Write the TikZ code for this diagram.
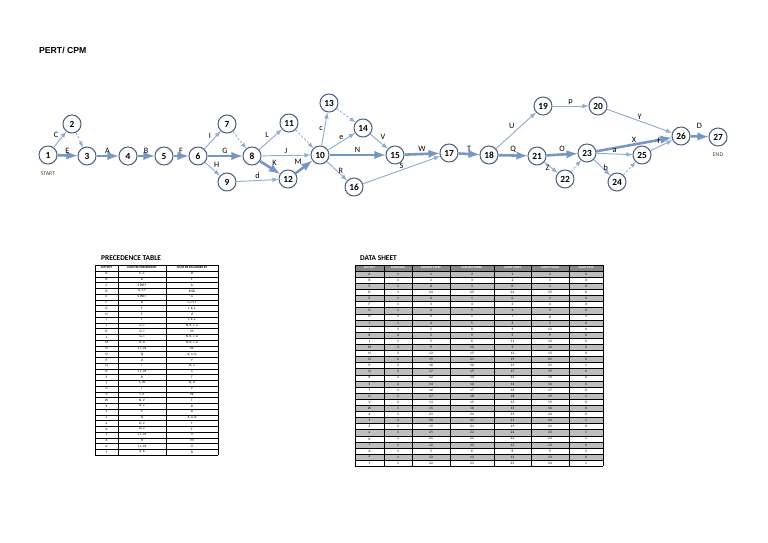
\documentclass[tikz,border=0pt]{standalone}
\usepackage{fontspec}
\setmainfont{Carlito}
\newfontfamily\titlefont{Liberation Sans}
\usetikzlibrary{arrows}
\usetikzlibrary{positioning}
\definecolor{RingBlue}{RGB}{80,100,130}
\definecolor{CritBlue}{RGB}{120,150,195}
\definecolor{LinkBlue}{RGB}{145,172,210}
\definecolor{ShadeGray}{RGB}{190,190,190}
\definecolor{HeadGray}{RGB}{135,135,135}

\tikzset{
  event/.style={circle,draw=RingBlue,line width=0.9pt,fill=white,minimum size=0.54cm,inner sep=0pt,font=\fontsize{8}{8}\selectfont\bfseries},
  crit/.style={->,>=latex,line width=2.2pt,CritBlue},
  link/.style={->,>=latex,line width=0.8pt,LinkBlue},
  dummy/.style={->,>=latex,line width=0.7pt,LinkBlue,dash pattern=on 2pt off 1.5pt},
  lbl/.style={font=\fontsize{7}{7}\selectfont,text=black,inner sep=1pt},
  tag/.style={font=\fontsize{5}{5}\selectfont,text=black!70,inner sep=1pt},
  tabtitle/.style={font=\fontsize{6.3}{7}\selectfont\bfseries,inner sep=0pt},
  cell/.style={font=\fontsize{3}{3}\selectfont,inner sep=0pt},
  headcell/.style={font=\fontsize{2.6}{3}\selectfont\bfseries,inner sep=0pt},
  tabline/.style={line width=0.3pt,black},
}

\begin{document}
\begin{tikzpicture}[x=0.03cm,y=-0.03cm]
  \useasboundingbox (0,0) rectangle (768,543);
  \fill[white] (0,0) rectangle (768,543);

  \node[anchor=west,font=\titlefont\bfseries\fontsize{7.4}{8}\selectfont] (title) at (35,50) {PERT/ CPM};

  % events of the network
  \node[event] (n1) at (48,155) {1};
  \node[event] (n2) at (72,124) {2};
  \node[event] (n3) at (87,156) {3};
  \node[event] (n4) at (128,156) {4};
  \node[event] (n5) at (164,156) {5};
  \node[event] (n6) at (198,156) {6};
  \node[event] (n7) at (227,124) {7};
  \node[event] (n8) at (252,156) {8};
  \node[event] (n9) at (227,182) {9};
  \node[event] (n10) at (320,155) {10};
  \node[event] (n11) at (289,123) {11};
  \node[event] (n12) at (288,179) {12};
  \node[event] (n13) at (329,103) {13};
  \node[event] (n14) at (363,128) {14};
  \node[event] (n15) at (395,155) {15};
  \node[event] (n16) at (354,187) {16};
  \node[event] (n17) at (449,153) {17};
  \node[event] (n18) at (489,155) {18};
  \node[event] (n19) at (543,106) {19};
  \node[event] (n20) at (598,106) {20};
  \node[event] (n21) at (537,156) {21};
  \node[event] (n22) at (565,179) {22};
  \node[event] (n23) at (587,153) {23};
  \node[event] (n24) at (617,182) {24};
  \node[event] (n25) at (642,155) {25};
  \node[event] (n26) at (681,136) {26};
  \node[event] (n27) at (718,137) {27};
  \node[tag,below=5pt of n1] (start) {START};
  \node[tag,below=4pt of n27] (end) {END};

  % activities
  \draw[link] (n1) -- node[lbl,above left] (lC) {C} (n2);
  \draw[dummy] (n2) -- (n3);
  \draw[crit] (n1) -- node[lbl,above] (lE) {E} (n3);
  \draw[crit] (n3) -- node[lbl,above] (lA) {A} (n4);
  \draw[crit] (n4) -- node[lbl,above] (lB) {B} (n5);
  \draw[crit] (n5) -- node[lbl,above] (lF) {F} (n6);
  \draw[link] (n6) -- node[lbl,above left] (lI) {I} (n7);
  \draw[dummy] (n7) -- (n8);
  \draw[crit] (n6) -- node[lbl,above] (lG) {G} (n8);
  \draw[link] (n6) -- node[lbl,above right] (lH) {H} (n9);
  \draw[link] (n9) -- node[lbl,above] (ld) {d} (n12);
  \draw[link] (n8) -- node[lbl,above left] (lL) {L} (n11);
  \draw[dummy] (n11) -- (n10);
  \draw[link] (n8) -- node[lbl,above] (lJ) {J} (n10);
  \draw[crit] (n8) -- node[lbl,above right] (lK) {K} (n12);
  \draw[crit] (n12) -- node[lbl,above left] (lM) {M} (n10);
  \draw[link] (n10) -- node[lbl,left] (lc) {c} (n13);
  \draw[dummy] (n13) -- (n14);
  \draw[link] (n10) -- node[lbl,above] (le) {e} (n14);
  \draw[link] (n14) -- node[lbl,above right] (lV) {V} (n15);
  \draw[crit] (n10) -- node[lbl,above] (lN) {N} (n15);
  \draw[link] (n10) -- node[lbl,right] (lR) {R} (n16);
  \draw[link] (n16) -- node[lbl,above] (lS) {S} (n17);
  \draw[crit] (n15) -- node[lbl,above] (lW) {W} (n17);
  \draw[crit] (n17) -- node[lbl,above] (lT) {T} (n18);
  \draw[link] (n18) -- node[lbl,above left] (lU) {U} (n19);
  \draw[link] (n19) -- node[lbl,above] (lp) {p} (n20);
  \draw[link] (n20) -- node[lbl,above] (lY) {Y} (n26);
  \draw[crit] (n18) -- node[lbl,above] (lQ) {Q} (n21);
  \draw[crit] (n21) -- node[lbl,above] (lO) {O} (n23);
  \draw[link] (n21) -- node[lbl,left] (lZ) {Z} (n22);
  \draw[dummy] (n22) -- (n23);
  \draw[crit] (n23) -- node[lbl,above] (lX) {X} (n26);
  \draw[link] (n23) -- node[lbl,above] (la) {a} (n25);
  \draw[link] (n23) -- node[lbl,right] (lb) {b} (n24);
  \draw[dummy] (n24) -- (n25);
  \draw[link] (n25) -- node[lbl,above left] (lf) {f} (n26);
  \draw[crit] (n26) -- node[lbl,above=5pt] (lD) {D} (n27);

  % precedence table
  \node[tabtitle,anchor=west] (prectitle) at (101,258) {PRECEDENCE TABLE};
  \foreach \i in {0,...,32}
    \draw[tabline] (95,{271+\i*5.75}) -- (218,{271+\i*5.75});
  \draw[tabline] (95,265) -- (218,265);
  \foreach \x in {95,118,166,218}
    \draw[tabline] (\x,265) -- (\x,455);
  \node[headcell] (ph1) at (106.5,268) {ACTIVITY};
  \node[headcell] (ph2) at (142,268) {MUST BE PRECEDED BY};
  \node[headcell] (ph3) at (192,268) {MUST BE FOLLOWED BY};
  \foreach \act/\pre/\fol [count=\r] in {A/{E, C}/B, B/A/F, C/START/A, D/{X, Y, f}/END,
      E/START/A, F/B/{G, H, I}, G/F/{J, K, L}, H/F/d, I/F/{J, K, L}, J/{G, I}/{N, R, c, e},
      K/{G, I}/M, L/{G, I}/{N, R, c, e}, M/{K, d}/{N, R, c, e}, N/{J, L, M}/W, O/Q/{X, a, b},
      P/U/Y, Q/T/{O, Z}, R/{J, L, M}/S, S/R/T, T/{S, W}/{Q, U}, U/T/P, V/{c, e}/W,
      W/{N, V}/T, X/{O, Z}/D, Y/P/D, Z/Q/{X, a, b}, a/{O, Z}/f, b/{O, Z}/f,
      c/{J, L, M}/V, d/H/M, e/{J, L, M}/V, f/{a, b}/D} {
    \node[cell] (pa\r) at (106.5,{268+\r*5.75}) {\act};
    \node[cell] (pb\r) at (142,{268+\r*5.75}) {\pre};
    \node[cell] (pc\r) at (192,{268+\r*5.75}) {\fol};
  }

  % data sheet
  \node[tabtitle,anchor=west] (datatitle) at (360,258) {DATA SHEET};
  \fill[HeadGray] (355,265) rectangle (603,271);
  \foreach \r in {1,3,...,31}
    \fill[ShadeGray] (355,{271+(\r-1)*6.1}) rectangle (603,{271+\r*6.1});
  \foreach \i in {0,...,32}
    \draw[tabline] (355,{271+\i*6.1}) -- (603,{271+\i*6.1});
  \draw[tabline] (355,265) -- (603,265);
  \foreach \x in {355,384,412,450,494,531,569,603}
    \draw[tabline] (\x,265) -- (\x,466.2);
  \foreach \x/\txt [count=\c] in {369.5/ACTIVITY, 398/DURATION, 431/EARLIEST START,
      472/EARLIEST FINISH, 512.5/LATEST START, 550/LATEST FINISH, 586/SLACK TIME}
    \node[headcell,text=white] (dh\c) at (\x,268) {\txt};
  \foreach \act/\du/\es/\ef/\ls/\lf/\sl [count=\r] in {A/1/1/2/1/2/0, B/1/2/3/2/3/0,
      C/1/0/1/0/1/0, D/1/24/25/24/25/0, E/1/0/1/0/1/0, F/1/3/4/3/4/0, G/1/4/5/4/5/0,
      H/1/4/5/7/8/3, I/1/4/5/4/5/0, J/3/5/8/9/12/4, K/4/5/9/5/9/0, L/1/5/6/11/12/6,
      M/3/9/12/9/12/0, N/3/12/15/12/15/0, O/2/19/21/19/21/0, P/2/18/20/19/21/1,
      Q/2/17/19/17/19/0, R/2/12/14/12/14/0, S/2/14/16/14/16/0, T/1/16/17/16/17/0,
      U/1/17/18/18/19/1, V/2/13/15/13/15/0, W/1/15/16/15/16/0, X/3/21/24/21/24/0,
      Y/3/20/23/21/24/1, Z/2/19/21/19/21/0, a/1/21/22/22/23/1, b/1/21/22/22/23/1,
      c/1/12/13/12/13/0, d/1/5/6/8/9/3, e/1/12/13/12/13/0, f/1/22/23/23/24/1} {
    \node[cell] (da\r) at (369.5,{268.05+\r*6.1}) {\act};
    \node[cell] (db\r) at (398,{268.05+\r*6.1}) {\du};
    \node[cell] (dc\r) at (431,{268.05+\r*6.1}) {\es};
    \node[cell] (dd\r) at (472,{268.05+\r*6.1}) {\ef};
    \node[cell] (de\r) at (512.5,{268.05+\r*6.1}) {\ls};
    \node[cell] (df\r) at (550,{268.05+\r*6.1}) {\lf};
    \node[cell] (dg\r) at (586,{268.05+\r*6.1}) {\sl};
  }
\end{tikzpicture}
\end{document}
